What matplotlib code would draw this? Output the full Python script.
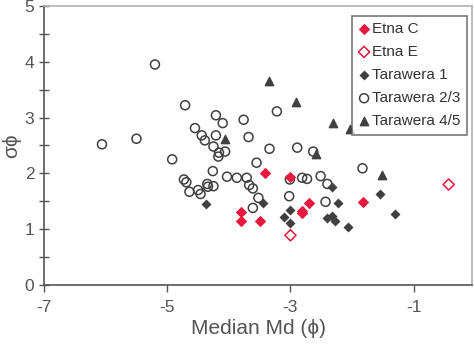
import matplotlib.pyplot as plt
from matplotlib.ticker import MultipleLocator

plt.rcParams["font.family"] = ["Liberation Sans", "DejaVu Sans"]
plt.rcParams["axes.unicode_minus"] = False

# Etna C (filled red diamonds)
etna_c_x = [-3.41, -3.01, -3.80, -3.80, -3.50, -2.70, -2.81, -2.81, -1.82]
etna_c_y = [2.00, 1.93, 1.30, 1.14, 1.15, 1.46, 1.33, 1.29, 1.49]

# Etna E (open red diamonds)
etna_e_x = [-3.00, -0.43]
etna_e_y = [0.89, 1.80]

# Tarawera 1 (small dark diamonds)
t1_x = [-4.37, -3.44, -3.00, -3.11, -3.00, -2.33, -2.22, -2.33, -2.40, -2.28, -2.07, -1.55, -1.31]
t1_y = [1.45, 1.46, 1.35, 1.21, 1.11, 1.76, 1.47, 1.24, 1.20, 1.15, 1.04, 1.63, 1.27]

# Tarawera 2/3 (open circles)
t23_x = [-5.20, -6.06, -5.50, -4.71, -4.21, -4.10, -3.76, -3.68, -4.55, -4.44,
         -4.39, -4.21, -4.25, -4.16, -4.17, -4.06, -4.92, -4.26, -3.55, -4.73,
         -4.69, -4.64, -4.50, -4.46, -4.35, -4.34, -4.25, -4.03, -3.87, -3.71,
         -3.67, -3.61, -3.52, -3.61, -3.22, -3.34, -2.89, -2.63, -1.83, -2.81,
         -2.73, -2.51, -2.40, -3.02, -2.43, -3.01]
t23_y = [3.95, 2.52, 2.62, 3.22, 3.04, 2.90, 2.96, 2.65, 2.81, 2.68,
         2.59, 2.68, 2.48, 2.37, 2.30, 2.39, 2.25, 2.04, 2.19, 1.89,
         1.84, 1.67, 1.70, 1.63, 1.81, 1.76, 1.77, 1.94, 1.92, 1.92,
         1.79, 1.73, 1.56, 1.38, 3.11, 2.44, 2.46, 2.39, 2.09, 1.92,
         1.90, 1.95, 1.81, 1.59, 1.49, 1.89]

# Tarawera 4/5 (filled triangles)
t45_x = [-3.34, -2.91, -2.31, -2.03, -2.59, -1.52, -4.07]
t45_y = [3.65, 3.27, 2.90, 2.79, 2.34, 1.97, 2.61]

red = "#e8173c"
dark = "#404040"
grey = "#555555"

fig = plt.figure(figsize=(4.74, 3.45), dpi=100)
ax = fig.add_axes([0.093, 0.174, 0.903, 0.809])

ax.scatter(t23_x, t23_y, s=42, facecolors="none", edgecolors=dark, linewidths=1.1,
           marker="o", label="Tarawera 2/3", zorder=3)
ax.scatter(t45_x, t45_y, s=36, color=dark, marker="^", label="Tarawera 4/5", zorder=3)
ax.scatter(t1_x, t1_y, s=26, color=dark, marker="D", linewidths=0, label="Tarawera 1", zorder=4)
ax.scatter(etna_c_x, etna_c_y, s=34, color=red, marker="D", linewidths=0, label="Etna C", zorder=5)
ax.scatter(etna_e_x, etna_e_y, s=32, facecolors="none", edgecolors=red, linewidths=1.1,
           marker="D", label="Etna E", zorder=5)

ax.set_xlim(-7, -0.05)
ax.set_ylim(0, 5)
ax.set_xticks([-7, -5, -3, -1])
ax.yaxis.set_major_locator(MultipleLocator(1))
ax.yaxis.set_minor_locator(MultipleLocator(0.5))

ax.tick_params(axis="x", direction="out", length=5, width=1, colors=grey,
               labelsize=12.5, pad=6)
ax.tick_params(axis="y", which="both", direction="inout", length=7, width=1,
               colors=grey, labelsize=12.5)
for side in ["left", "bottom"]:
    ax.spines[side].set_color(grey)
    ax.spines[side].set_linewidth(1.2)
for side in ["top", "right"]:
    ax.spines[side].set_color("#b0b0b0")
    ax.spines[side].set_linewidth(1.2)

ax.set_xlabel("Median Md (ϕ)", fontsize=15, color=grey, labelpad=3)
ax.set_ylabel("σϕ", fontsize=15, color=grey)
ax.yaxis.set_label_coords(-0.054, 0.5)

handles, labels = ax.get_legend_handles_labels()
order = ["Etna C", "Etna E", "Tarawera 1", "Tarawera 2/3", "Tarawera 4/5"]
hmap = dict(zip(labels, handles))
leg = ax.legend([hmap[k] for k in order], order, loc="upper right",
                bbox_to_anchor=(0.988, 0.965), fontsize=11, frameon=True, fancybox=False,
                handletextpad=0.15, handlelength=0.8, borderpad=0.4, labelspacing=0.6,
                borderaxespad=0.0)
leg.get_frame().set_edgecolor(grey)
leg.get_frame().set_linewidth(1.2)
for t in leg.get_texts():
    t.set_color("#333333")

fig.savefig("out.png", dpi=100)
